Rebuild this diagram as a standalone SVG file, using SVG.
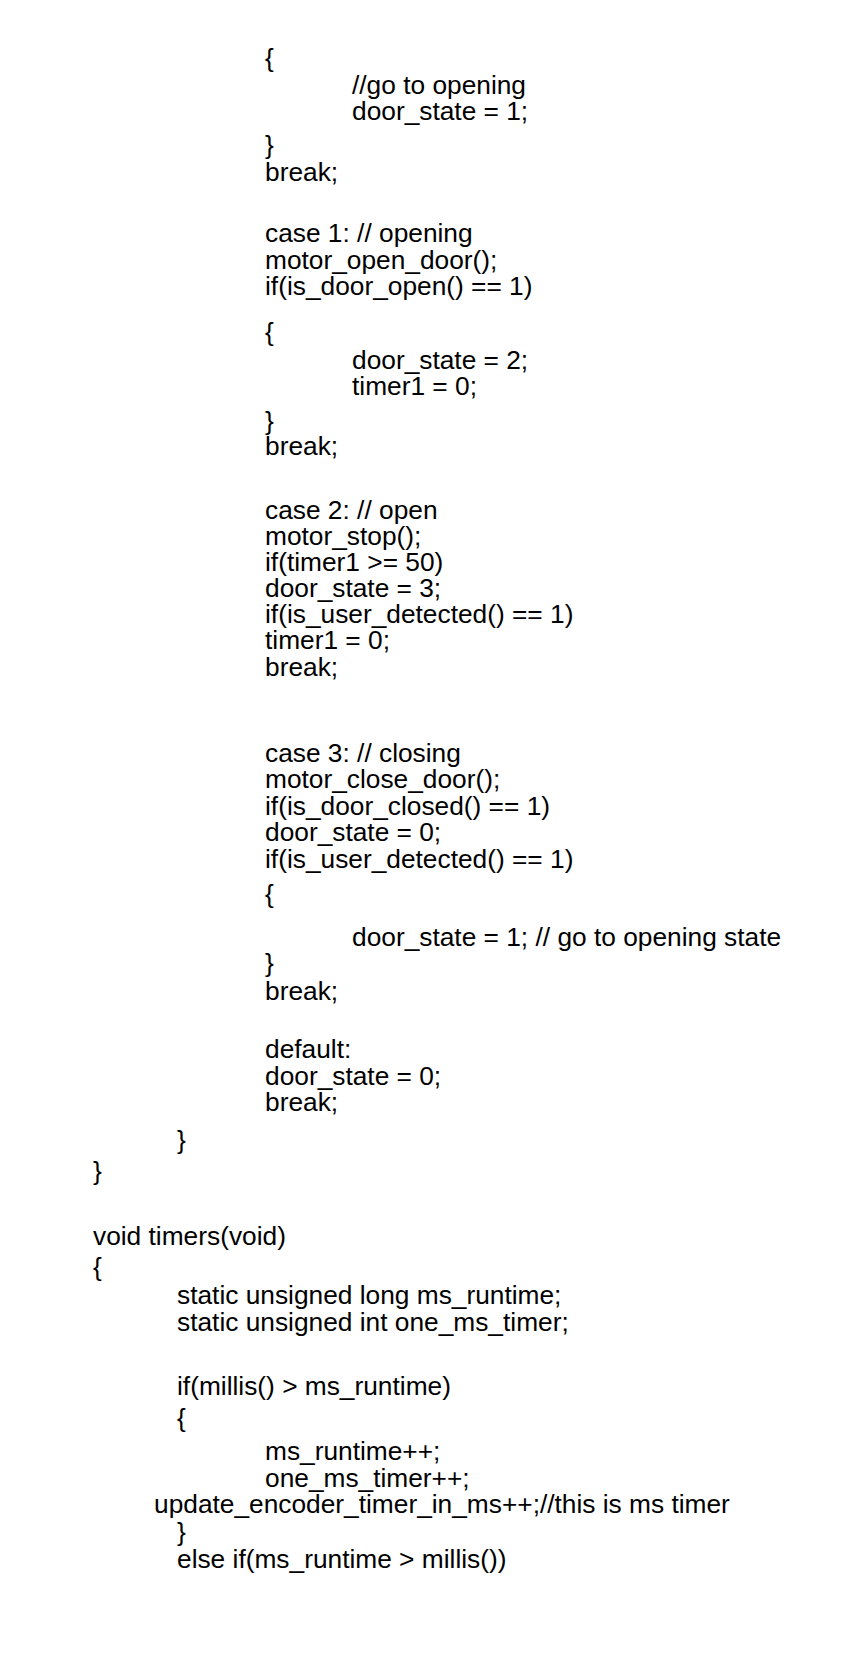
<svg xmlns="http://www.w3.org/2000/svg" width="848" height="1660" viewBox="0 0 848 1660">
<style>text{font-family:"Liberation Sans",Arial,sans-serif;font-size:26.3px;fill:#000}</style>
<rect width="848" height="1660" fill="#fff"/>
<g id="code">
<text x="265" y="67">{</text>
<text x="352" y="94">//go to opening</text>
<text x="352" y="120">door_state = 1;</text>
<text x="265" y="154">}</text>
<text x="265" y="181">break;</text>
<text x="265" y="242">case 1: // opening</text>
<text x="265" y="269">motor_open_door();</text>
<text x="265" y="295">if(is_door_open() == 1)</text>
<text x="265" y="341">{</text>
<text x="352" y="369">door_state = 2;</text>
<text x="352" y="395">timer1 = 0;</text>
<text x="265" y="430">}</text>
<text x="265" y="455">break;</text>
<text x="265" y="519">case 2: // open</text>
<text x="265" y="545">motor_stop();</text>
<text x="265" y="571">if(timer1 &gt;= 50)</text>
<text x="265" y="597">door_state = 3;</text>
<text x="265" y="623">if(is_user_detected() == 1)</text>
<text x="265" y="649">timer1 = 0;</text>
<text x="265" y="676">break;</text>
<text x="265" y="762">case 3: // closing</text>
<text x="265" y="788">motor_close_door();</text>
<text x="265" y="815">if(is_door_closed() == 1)</text>
<text x="265" y="841">door_state = 0;</text>
<text x="265" y="868">if(is_user_detected() == 1)</text>
<text x="265" y="903">{</text>
<text x="352" y="946">door_state = 1; // go to opening state</text>
<text x="265" y="972">}</text>
<text x="265" y="1000">break;</text>
<text x="265" y="1058">default:</text>
<text x="265" y="1085">door_state = 0;</text>
<text x="265" y="1111">break;</text>
<text x="177" y="1149">}</text>
<text x="93" y="1180">}</text>
<text x="93" y="1245">void timers(void)</text>
<text x="93" y="1276">{</text>
<text x="177" y="1304">static unsigned long ms_runtime;</text>
<text x="177" y="1331">static unsigned int one_ms_timer;</text>
<text x="177" y="1395">if(millis() &gt; ms_runtime)</text>
<text x="177" y="1427">{</text>
<text x="265" y="1460">ms_runtime++;</text>
<text x="265" y="1487">one_ms_timer++;</text>
<text x="154" y="1513">update_encoder_timer_in_ms++;//this is ms timer</text>
<text x="177" y="1541">}</text>
<text x="177" y="1568">else if(ms_runtime &gt; millis())</text>
</g>
</svg>
